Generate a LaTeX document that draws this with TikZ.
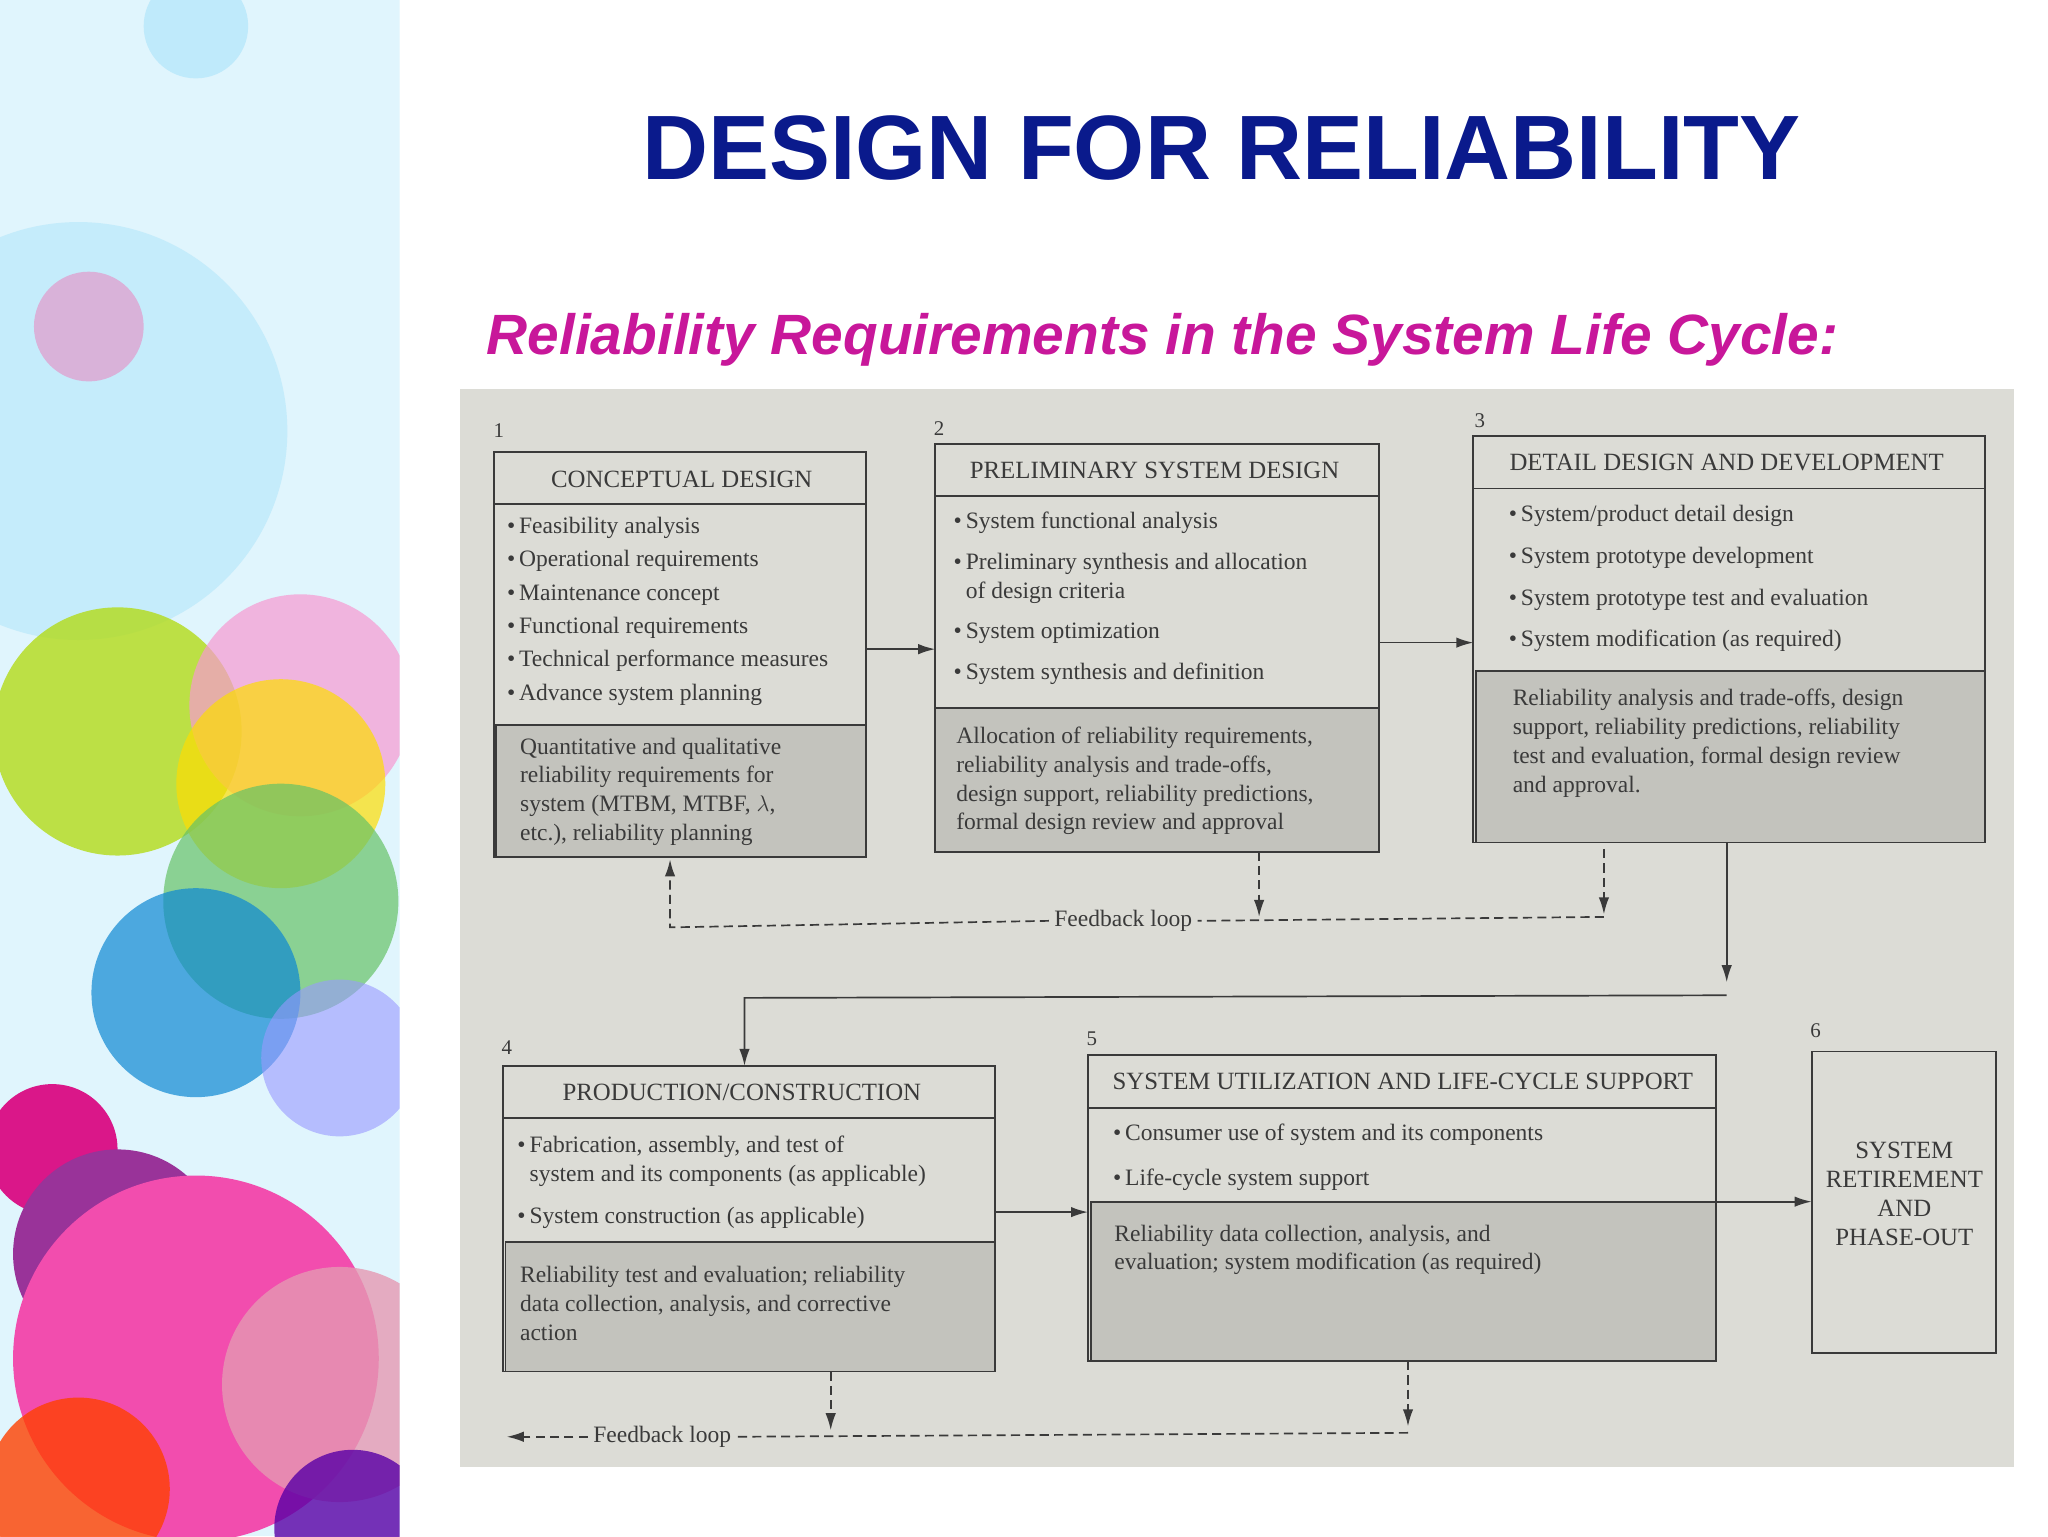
\documentclass[tikz,border=0pt]{standalone}
\usepackage{fontspec}
\setmainfont{Liberation Serif}
\newfontfamily\hfont{Liberation Sans}
\usetikzlibrary{arrows.meta}
\definecolor{panel}{HTML}{DCDCD6}
\definecolor{shade}{HTML}{C3C3BD}
\definecolor{ttl}{HTML}{0A1A8C}
\definecolor{sub}{HTML}{C8179A}
\definecolor{ink}{HTML}{3A3A3A}
\tikzset{
 x=1pt,y=-1pt,
 bx/.style={draw=ink,line width=1.4pt},
 sh/.style={fill=shade,draw=ink,line width=1.4pt},
 tx/.style={anchor=west,inner sep=0,text=ink,font=\fontsize{18}{22}\selectfont,align=left},
 hd/.style={inner sep=0,text=ink,font=\fontsize{19}{22}\selectfont},
 num/.style={inner sep=0,text=ink,font=\fontsize{16}{18}\selectfont},
 ar/.style={draw=ink,line width=1.3pt,-{Latex[length=13pt,width=8pt]}},
 da/.style={draw=ink,line width=1.3pt,dashed,dash pattern=on 7pt off 4pt},
 dar/.style={da,-{Latex[length=13pt,width=8pt]}},
}
\begin{document}
\begin{tikzpicture}
\useasboundingbox (0,0) rectangle (1568,1176);
\fill[white] (0,0) rectangle (1568,1176);
% decorative strip
\begin{scope}
\clip (0,0) rectangle (306,1176);
\fill[cyan!12] (0,0) rectangle (306,1176);
\fill[cyan!30,opacity=.6] (60,330) circle (160);
\fill[cyan!25] (150,20) circle (40);
\fill[violet!30] (68,250) circle (42);
\fill[yellow!70!green,opacity=.8] (90,560) circle (95);
\fill[magenta!40,opacity=.7] (230,540) circle (85);
\fill[yellow!80!orange,opacity=.7] (215,600) circle (80);
\fill[green!60!black!60,opacity=.7] (215,690) circle (90);
\fill[cyan!70!blue,opacity=.7] (150,760) circle (80);
\fill[blue!40,opacity=.6] (260,810) circle (60);
\fill[magenta!80!violet] (40,880) circle (50);
\fill[violet!80] (90,960) circle (80);
\fill[magenta!70] (150,1040) circle (140);
\fill[red!50!orange,opacity=.8] (60,1140) circle (70);
\fill[pink!80!violet,opacity=.8] (260,1060) circle (90);
\fill[violet!70!blue,opacity=.8] (270,1170) circle (60);
\end{scope}
% titles
\node[font=\hfont\bfseries\fontsize{70}{74}\selectfont,text=ttl] (title) at (935,113) {DESIGN FOR RELIABILITY};
\node[font=\hfont\bfseries\itshape\fontsize{43.5}{48}\selectfont,text=sub] (subt) at (890,260) {Reliability Requirements in the System Life Cycle:};
% panel
\fill[panel] (352,298) rectangle (1542,1123);
% Box1
\draw[sh] (380,555) rectangle (663,656);
\draw[bx] (378,346) rectangle (663,656);
\draw[bx] (378,386) -- (663,386);
\node[hd] (h1) at (522,367) {CONCEPTUAL DESIGN};
\node[num] (n1) at (382,330) {1};
\node[tx,font=\fontsize{18}{25.5}\selectfont] (b1) at (388,468) {\textbullet\,Feasibility analysis\\ \textbullet\,Operational requirements\\ \textbullet\,Maintenance concept\\ \textbullet\,Functional requirements\\ \textbullet\,Technical performance measures\\ \textbullet\,Advance system planning};
\node[tx] (s1) at (398,606) {Quantitative and qualitative\\reliability requirements for\\system (MTBM, MTBF, $\lambda$,\\etc.), reliability planning};
% Box2
\draw[sh] (716,542) rectangle (1056,652);
\draw[bx] (716,340) rectangle (1056,652);
\draw[bx] (716,380) -- (1056,380);
\node[hd] (h2) at (884,360) {PRELIMINARY SYSTEM DESIGN};
\node[num] (n2) at (719,328) {2};
\node[tx] (b2) at (730,458) {\textbullet\,System functional analysis\\[9pt] \textbullet\,Preliminary synthesis and allocation\\ \phantom{\textbullet\,}of design criteria\\[9pt] \textbullet\,System optimization\\[9pt] \textbullet\,System synthesis and definition};
\node[tx] (s2) at (732,598) {Allocation of reliability requirements,\\reliability analysis and trade-offs,\\design support, reliability predictions,\\formal design review and approval};
% Box3
\draw[sh] (1130,514) rectangle (1520,645);
\draw[bx] (1128,334) rectangle (1520,645);
\draw[bx] (1128,374) -- (1520,374);
\node[hd] (h3) at (1322,354) {DETAIL DESIGN AND DEVELOPMENT};
\node[num] (n3) at (1133,322) {3};
\node[tx] (b3) at (1155,443) {\textbullet\,System/product detail design\\[10pt] \textbullet\,System prototype development\\[10pt] \textbullet\,System prototype test and evaluation\\[10pt] \textbullet\,System modification (as required)};
\node[tx] (s3) at (1158,569) {Reliability analysis and trade-offs, design\\support, reliability predictions, reliability\\test and evaluation, formal design review\\and approval.};
% Box4
\draw[sh] (387,951) rectangle (762,1050);
\draw[bx] (385,816) rectangle (762,1050);
\draw[bx] (385,856) -- (762,856);
\node[hd] (h4) at (568,836) {PRODUCTION/CONSTRUCTION};
\node[num] (n4) at (388,802) {4};
\node[tx] (b4) at (396,905) {\textbullet\,Fabrication, assembly, and test of\\ \phantom{\textbullet\,}system and its components (as applicable)\\[10pt] \textbullet\,System construction (as applicable)};
\node[tx] (s4) at (398,998) {Reliability test and evaluation; reliability\\data collection, analysis, and corrective\\action};
% Box5
\draw[sh] (835,920) rectangle (1314,1042);
\draw[bx] (833,808) rectangle (1314,1042);
\draw[bx] (833,848) -- (1314,848);
\node[hd] (h5) at (1074,828) {SYSTEM UTILIZATION AND LIFE-CYCLE SUPPORT};
\node[num] (n5) at (836,795) {5};
\node[tx] (b5) at (852,886) {\textbullet\,Consumer use of system and its components\\[12pt] \textbullet\,Life-cycle system support};
\node[tx] (s5) at (853,957) {Reliability data collection, analysis, and\\evaluation; system modification (as required)};
% Box6
\draw[bx] (1387,805) rectangle (1528,1036);
\node[hd,align=center] (h6) at (1458,914) {SYSTEM\\RETIREMENT\\AND\\PHASE-OUT};
\node[num] (n6) at (1390,789) {6};
% arrows
\draw[ar] (663,497) -- (716,497);
\draw[ar] (1056,492) -- (1128,492);
\draw[ar] (1322,645) -- (1322,752);
\draw[ar] (1322,762) -- (570,764) -- (570,816);
\draw[ar] (762,928) -- (833,928);
\draw[ar] (1314,920) -- (1387,920);
% feedback 1
\node[hd,font=\fontsize{18}{20}\selectfont,fill=panel,inner xsep=4pt] (fb1) at (860,705) {Feedback loop};
\draw[dar] (964,652) -- (964,702);
\draw[dar] (1228,650) -- (1228,700);
\draw[da] (1228,702) -- (fb1.east);
\draw[dar] (fb1.west) -- (513,710) -- (513,658);
% feedback 2
\node[hd,font=\fontsize{18}{20}\selectfont,fill=panel,inner xsep=4pt] (fb2) at (507,1100) {Feedback loop};
\draw[dar] (636,1050) -- (636,1095);
\draw[dar] (1078,1042) -- (1078,1092);
\draw[da] (1078,1097) -- (fb2.east);
\draw[dar] (fb2.west) -- (388,1100);
\end{tikzpicture}
\end{document}
